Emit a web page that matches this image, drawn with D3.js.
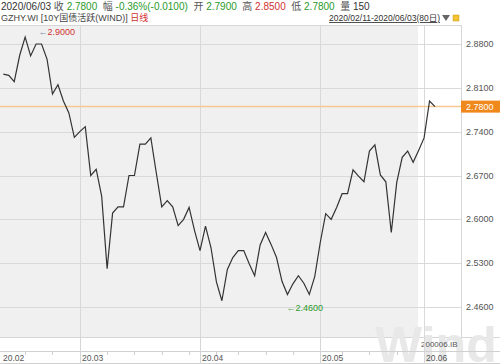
<!DOCTYPE html>
<html>
<head>
<meta charset="utf-8">
<script src="https://cdn.jsdelivr.net/npm/d3@7"></script>
<style>
  body { margin: 0; background: #fff; }
  svg { display: block; font-family: "Liberation Sans", "Noto Sans CJK SC", sans-serif; }
</style>
</head>
<body>
<svg id="chart"></svg>
<script>
// trading days 2020/02/11 - 2020/06/03 (MMDD)
var dates = [
  "0211","0212","0213","0214","0217","0218","0219","0220","0221","0224","0225","0226","0227","0228",
  "0302","0303","0304","0305","0306","0309","0310","0311","0312","0313","0316","0317","0318","0319","0320","0323","0324","0325","0326","0327","0330","0331",
  "0401","0402","0403","0407","0408","0409","0410","0413","0414","0415","0416","0417","0420","0421","0422","0423","0424","0426","0427","0428","0429","0430",
  "0506","0507","0508","0509","0511","0512","0513","0514","0515","0518","0519","0520","0521","0522","0525","0526","0527","0528","0529",
  "0601","0602","0603"
];

var closes = [
  2.832, 2.830, 2.820, 2.862, 2.891, 2.861, 2.880, 2.880, 2.856, 2.800, 2.815, 2.789, 2.770, 2.731,
  2.740, 2.748, 2.670, 2.680, 2.637, 2.521, 2.610, 2.620, 2.620, 2.670, 2.670, 2.720, 2.720, 2.730, 2.674, 2.620, 2.630, 2.620, 2.590, 2.600, 2.619, 2.582,
  2.550, 2.589, 2.555, 2.500, 2.470, 2.520, 2.539, 2.550, 2.550, 2.529, 2.510, 2.559, 2.579, 2.560, 2.539, 2.501, 2.480, 2.497, 2.510, 2.498, 2.480, 2.509,
  2.563, 2.609, 2.600, 2.619, 2.641, 2.641, 2.679, 2.669, 2.660, 2.709, 2.719, 2.671, 2.660, 2.579, 2.659, 2.699, 2.709, 2.691, 2.710,
  2.730, 2.789, 2.780
];

var yTicks = [2.46, 2.53, 2.60, 2.67, 2.74, 2.81, 2.88];
var lastClose = 2.78;
var highMark = { date: "0220", value: 2.90 };
var lowMark = { date: "0424", value: 2.46 };

var headerItems = [
  { t: "2020/06/03", c: "#333" },
  { t: " 收 ", c: "#555" }, { t: "2.7800", c: "#2a9a2a" },
  { t: "  幅 ", c: "#555" }, { t: "-0.36%(-0.0100)", c: "#2a9a2a" },
  { t: "  开 ", c: "#555" }, { t: "2.7900", c: "#2a9a2a" },
  { t: "  高 ", c: "#555" }, { t: "2.8500", c: "#d03030" },
  { t: "  低 ", c: "#555" }, { t: "2.7800", c: "#2a9a2a" },
  { t: "  量 ", c: "#555" }, { t: "150", c: "#333" }
];

var width = 500, height = 364;
var plotLeft = 0, plotRight = 461, plotTop = 25, plotBottom = 337;

var svg = d3.select("#chart").attr("width", width).attr("height", height);

var x = d3.scalePoint().domain(dates).range([3.3, 435]);
var y = d3.scaleLinear().domain([2.46, 2.88]).range([307, 44]);

// month starts
var monthStarts = dates.filter(function(d, i) { return i === 0 || d.slice(0, 2) !== dates[i - 1].slice(0, 2); });

// plot background
svg.append("rect").attr("x", plotLeft).attr("y", plotTop)
  .attr("width", 418 - plotLeft).attr("height", plotBottom - plotTop)
  .attr("fill", "#f0f0f0");

// horizontal grid
svg.append("g").selectAll("line").data(yTicks).enter().append("line")
  .attr("x1", plotLeft).attr("x2", plotRight)
  .attr("y1", d => Math.round(y(d)) + 0.5).attr("y2", d => Math.round(y(d)) + 0.5)
  .attr("stroke", "#d9d9d9").attr("stroke-width", 1);

// vertical month grid
svg.append("g").selectAll("line").data(monthStarts.slice(1)).enter().append("line")
  .attr("x1", d => Math.round(x(d)) + 0.5).attr("x2", d => Math.round(x(d)) + 0.5)
  .attr("y1", plotTop).attr("y2", plotBottom)
  .attr("stroke", "#d9d9d9").attr("stroke-width", 1);

// plot frame
svg.append("line").attr("x1", 0).attr("x2", plotRight).attr("y1", plotTop + 0.5).attr("y2", plotTop + 0.5).attr("stroke", "#d6d6d6");
svg.append("line").attr("x1", plotRight + 0.5).attr("x2", plotRight + 0.5).attr("y1", plotTop).attr("y2", 351).attr("stroke", "#d6d6d6");
svg.append("line").attr("x1", 0).attr("x2", width).attr("y1", plotBottom + 0.5).attr("y2", plotBottom + 0.5).attr("stroke", "#d6d6d6");

// last close line
svg.append("line").attr("x1", plotLeft).attr("x2", plotRight)
  .attr("y1", y(lastClose)).attr("y2", y(lastClose))
  .attr("stroke", "#f6c892").attr("stroke-width", 1.5);

// watermark
svg.append("text").attr("x", 375).attr("y", 362)
  .attr("font-size", 50).attr("font-weight", "bold").attr("fill", "#e8e8e8")
  .attr("font-family", "Liberation Sans, sans-serif")
  .text("Wind");

// price line
var line = d3.line().x((d, i) => x(dates[i])).y(d => y(d));
svg.append("path").datum(closes)
  .attr("d", line).attr("fill", "none")
  .attr("stroke", "#333").attr("stroke-width", 1.2).attr("stroke-linejoin", "miter");

// high / low annotations
var hi = svg.append("text").attr("x", x(highMark.date) - 3).attr("y", y(highMark.value) + 3.5)
  .attr("font-size", 9);
hi.append("tspan").attr("fill", "#7a8fb0").text("\u2190");
hi.append("tspan").attr("fill", "#d03030").text(highMark.value.toFixed(4));
var lo = svg.append("text").attr("x", x(lowMark.date) - 1).attr("y", y(lowMark.value) + 4)
  .attr("font-size", 9);
lo.append("tspan").attr("fill", "#5aae5a").text("\u2190");
lo.append("tspan").attr("fill", "#2a9a2a").text(lowMark.value.toFixed(4));

// right axis
var yAxis = svg.append("g").attr("transform", "translate(" + plotRight + ",0)");
yAxis.selectAll("text").data(yTicks).enter().append("text")
  .attr("x", 5).attr("y", d => y(d) + 3)
  .attr("font-size", 9).attr("fill", "#555")
  .text(d => d.toFixed(4));
yAxis.append("rect").attr("x", 0).attr("y", y(lastClose) - 6)
  .attr("width", width - plotRight).attr("height", 12).attr("fill", "#f0891c");
yAxis.append("text").attr("x", 5).attr("y", y(lastClose) + 3)
  .attr("font-size", 9).attr("fill", "#fff").text(lastClose.toFixed(4));

// bottom code label
svg.append("text").attr("x", 421).attr("y", 347)
  .attr("font-size", 8).attr("fill", "#555").text("200006.IB");

// x axis row
svg.append("line").attr("x1", 0).attr("x2", width).attr("y1", 351.5).attr("y2", 351.5).attr("stroke", "#d0d0d0");
svg.append("line").attr("x1", 0).attr("x2", width).attr("y1", 363.5).attr("y2", 363.5).attr("stroke", "#d0d0d0");
var weekStarts = dates.filter(function(d, i) {
  if (i === 0) return false;
  var a = new Date(2020, +d.slice(0, 2) - 1, +d.slice(2));
  var b = new Date(2020, +dates[i - 1].slice(0, 2) - 1, +dates[i - 1].slice(2));
  return a.getDay() < b.getDay() || (a - b) > 3 * 864e5;
});
svg.append("g").selectAll("line").data(weekStarts).enter().append("line")
  .attr("x1", d => Math.round(x(d)) + 0.5).attr("x2", d => Math.round(x(d)) + 0.5)
  .attr("y1", 352).attr("y2", 355).attr("stroke", "#cfcfcf");
svg.append("g").selectAll("line").data(monthStarts.slice(1)).enter().append("line")
  .attr("x1", d => Math.round(x(d)) + 0.5).attr("x2", d => Math.round(x(d)) + 0.5)
  .attr("y1", 337).attr("y2", 364).attr("stroke", "#d6d6d6");
svg.append("g").selectAll("text").data(monthStarts).enter().append("text")
  .attr("x", (d, i) => i === 0 ? 3 : Math.round(x(d)) + 2)
  .attr("y", 360.5).attr("font-size", 8.5).attr("fill", "#555")
  .text(d => "20." + d.slice(0, 2));

// header row 1
var h1 = svg.append("text").attr("x", 1).attr("y", 10).attr("font-size", 10).attr("xml:space", "preserve");
h1.selectAll("tspan").data(headerItems).enter().append("tspan")
  .attr("fill", d => d.c).text(d => d.t);

// header row 2
var h2 = svg.append("text").attr("x", 1).attr("y", 21).attr("font-size", 9).attr("xml:space", "preserve");
h2.append("tspan").attr("fill", "#444").text("GZHY.WI [10Y国债活跃(WIND)] ");
h2.append("tspan").attr("fill", "#d03030").text("日线");

svg.append("text").attr("x", 440).attr("y", 21).attr("text-anchor", "end")
  .attr("font-size", 8.5).attr("fill", "#333").attr("text-decoration", "underline")
  .text("2020/02/11-2020/06/03(80日)");
svg.append("path").attr("d", "M442,15 L450,15 L446,21 Z").attr("fill", "#666");
svg.append("rect").attr("x", 453).attr("y", 15).attr("width", 6).attr("height", 6)
  .attr("fill", "#f2c230").attr("stroke", "#c89b1a").attr("stroke-width", 0.5);
</script>
</body>
</html>
